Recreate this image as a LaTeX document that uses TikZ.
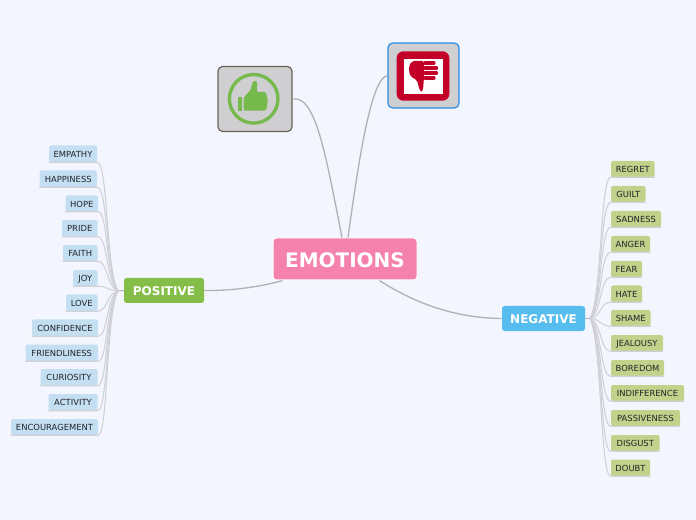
\documentclass[tikz,border=0pt]{standalone}
\usepackage{fontspec}
\setmainfont{DejaVu Sans}
\usetikzlibrary{calc}
\definecolor{bgc}{HTML}{F4F6FF}
\definecolor{leftc}{HTML}{C5DFF2}
\definecolor{rightc}{HTML}{C2D28A}
\definecolor{posc}{HTML}{84BD47}
\definecolor{negc}{HTML}{57BCEE}
\definecolor{emoc}{HTML}{F582AC}
\definecolor{linec}{HTML}{B2B2B4}
\definecolor{sublinec}{HTML}{D0D0D6}
\definecolor{txtc}{HTML}{20242A}
\definecolor{greyc}{HTML}{CFCFD1}
\definecolor{upb}{HTML}{6B6255}
\definecolor{downb}{HTML}{2B8BE8}
\definecolor{thumbg}{HTML}{76B94C}
\definecolor{thumbr}{HTML}{C20028}
\tikzset{
  x=0.75pt,y=-0.75pt,
  leaf/.style={rectangle,rounded corners=1.5pt,inner sep=0pt,text=txtc,text height=5.6pt,text depth=0pt,font=\fontsize{6.3pt}{7pt}\selectfont},
  leftleaf/.style={leaf,fill=leftc},
  rightleaf/.style={leaf,fill=rightc},
  branch/.style={rectangle,rounded corners=2pt,inner sep=0pt,text=white,text height=7.8pt,text depth=0pt,font=\fontsize{9pt}{10pt}\selectfont\bfseries},
  mainlink/.style={draw=linec,line width=1pt},
  sublink/.style={draw=sublinec,line width=0.8pt},
  iconbox/.style={rectangle,rounded corners=3.5pt,fill=greyc,line width=0.9pt,inner sep=0pt}
}
\begin{document}
\begin{tikzpicture}
\useasboundingbox (0,0) rectangle (696,520);
\fill[bgc] (0,0) rectangle (696,520);
% main nodes
\node[rectangle,rounded corners=2.5pt,fill=emoc,draw=white,line width=0.75pt,inner sep=0pt,text=white,text height=12.6pt,text depth=0pt,
  minimum width=108pt,minimum height=31.5pt,font=\fontsize{15pt}{18pt}\selectfont\bfseries] (EMO) at (345,259) {EMOTIONS};
\node[branch,fill=posc,minimum width=60pt,minimum height=18.75pt] (POS) at (164,290.5) {POSITIVE};
\node[branch,fill=negc,minimum width=62.25pt,minimum height=18.75pt] (NEG) at (543.5,318.5) {NEGATIVE};
\node[iconbox,draw=upb,minimum width=55.5pt,minimum height=48.75pt] (UP) at (255,99) {};
\node[iconbox,draw=downb,minimum width=53.25pt,minimum height=48.75pt] (DOWN) at (423.5,75.5) {};
% main connectors
\draw[mainlink] (POS.east) .. controls (230,291) and (260,287) .. (EMO.-161);
\draw[mainlink] (EMO.-32) .. controls (410,300) and (450,318) .. (NEG.west);
\draw[mainlink] (UP.east) .. controls (315,95) and (325,150) .. (EMO.98);
\draw[mainlink] (DOWN.west) .. controls (372,78) and (360,150) .. (EMO.82);
% hubs
\coordinate (hubL) at (118,291);
\coordinate (hubR) at (590,318.5);
\draw[mainlink,line width=0.75pt] (hubL) -- (POS.west);
\draw[mainlink,line width=0.75pt] (hubR) -- (NEG.east);
% left leaves
\foreach \nm/\txt/\xl/\xr/\yt/\yb in {
  a1/EMPATHY/49/97/145.5/162,
  a2/HAPPINESS/39.5/97/170.5/187,
  a3/HOPE/65.5/98/195.5/211.5,
  a4/PRIDE/62/97.5/220/236.5,
  a5/FAITH/63/97.5/245/261,
  a6/JOY/73/97.5/270/286,
  a7/LOVE/66/97.5/294.5/311,
  a8/CONFIDENCE/32/98/319.5/336,
  a9/FRIENDLINESS/25.5/98/344.5/361,
  a10/CURIOSITY/40.5/97.5/369/385.5,
  a11/ACTIVITY/48.5/97.5/394/410.5,
  a12/ENCOURAGEMENT/11/98/419/435}{
  \pgfmathsetmacro{\boxw}{(\xr-\xl)*0.75}
  \pgfmathsetmacro{\boxh}{(\yb-\yt)*0.75}
  \node[leftleaf,minimum width=\boxw pt,minimum height=\boxh pt] (\nm) at ({(\xl+\xr)/2},{(\yt+\yb)/2}) {\txt};
  \draw[sublink] (\nm.south west) -- (\nm.south east) .. controls (108,\yb) and (106,{291+(\yb-291)*0.15}) .. (hubL);
}
% right leaves
\foreach \nm/\txt/\xr/\yt/\yb in {
  b1/REGRET/654.5/161/177,
  b2/GUILT/645.5/186/202,
  b3/SADNESS/661/211/227,
  b4/ANGER/650/236/252,
  b5/FEAR/642/261/277,
  b6/HATE/642/285.5/302,
  b7/SHAME/650.5/310/326,
  b8/JEALOUSY/663/335/351,
  b9/BOREDOM/664/360/376,
  b10/INDIFFERENCE/684/385/401,
  b11/PASSIVENESS/680/410/426,
  b12/DISGUST/659.5/435/451,
  b13/DOUBT/650/459.5/476}{
  \pgfmathsetmacro{\boxw}{(\xr-611)*0.75}
  \pgfmathsetmacro{\boxh}{(\yb-\yt)*0.75}
  \node[rightleaf,minimum width=\boxw pt,minimum height=\boxh pt] (\nm) at ({(611+\xr)/2},{(\yt+\yb)/2}) {\txt};
  \draw[sublink] (\nm.south east) -- (\nm.south west) .. controls (600,\yb) and (602,{318.5+(\yb-318.5)*0.15}) .. (hubR);
}
% thumb-up icon
\draw[thumbg,line width=2.5pt] (253.7,98.8) circle (24.3);
\fill[thumbg] (238.2,97.5) rectangle (242.4,110.7);
\fill[thumbg,rounded corners=1pt] (243.7,97.5) -- (250.5,90) -- (252.5,82) -- (255,80.5) -- (257.5,82) -- (256.8,92) -- (266,92) -- (266.5,96) -- (267.5,98) -- (267.5,104) -- (266,110.7) -- (243.7,110.7) -- cycle;
% thumb-down icon
\fill[thumbr,rounded corners=5pt] (396.7,51.3) rectangle (449.3,100.7);
\fill[white] (404,59) rectangle (443.3,94);
\fill[thumbr,rounded corners=1.5pt] (409,66) -- (412,61) -- (424,61) -- (424,77) -- (423,90) -- (421.5,92) -- (419.5,90) -- (417,80) -- (411,77) -- (409,72) -- cycle;
\foreach \ya/\xb in {63/434,68/436.5,73/436.5,78/434}{
  \draw[thumbr,line width=2.4pt,line cap=round] (425,\ya) -- (\xb,\ya);
}
\end{tikzpicture}
\end{document}
